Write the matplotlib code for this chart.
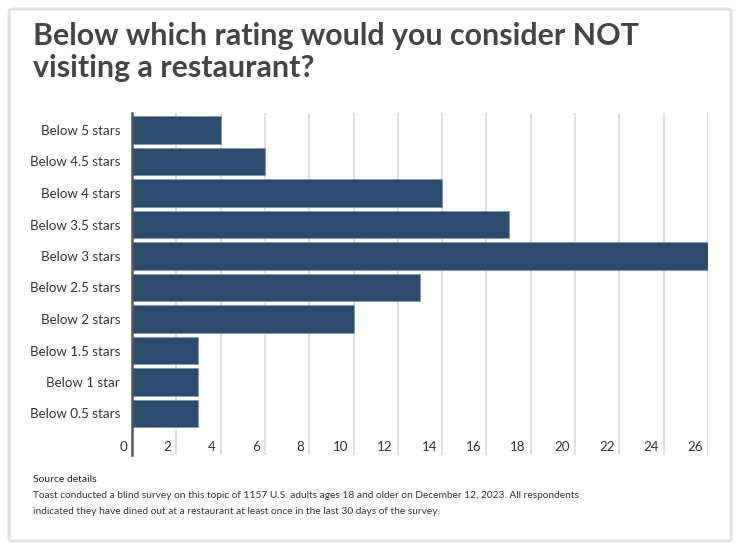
import matplotlib
matplotlib.use("Agg")
import matplotlib.pyplot as plt
from matplotlib.patches import FancyBboxPatch
from matplotlib.transforms import ScaledTranslation

categories = ["Below 5 stars", "Below 4.5 stars", "Below 4 stars", "Below 3.5 stars",
              "Below 3 stars", "Below 2.5 stars", "Below 2 stars", "Below 1.5 stars",
              "Below 1 star", "Below 0.5 stars"]
values = [4, 6, 14, 17, 26, 13, 10, 3, 3, 3]
xticks = list(range(0, 27, 2))

title_lines = ["Below which rating would you consider NOT", "visiting a restaurant?"]
source_head = "Source details"
source_lines = ["Toast conducted a blind survey on this topic of 1157 U.S. adults ages 18 and older on December 12, 2023. All respondents",
                "indicated they have dined out at a restaurant at least once in the last 30 days of the survey."]

FONT = "Lato"
W, H, DPI = 740, 550, 100
fig = plt.figure(figsize=(W / DPI, H / DPI), dpi=DPI)
fig.patch.set_facecolor("white")

# card border
fig.patches.append(FancyBboxPatch((9 / W, 9 / H), (731 - 9) / W, (541 - 9) / H,
                                  boxstyle="round,pad=0,rounding_size=0.004",
                                  transform=fig.transFigure, facecolor="white",
                                  edgecolor="#e0e0e0", linewidth=2.2, zorder=-1))

renderer = fig.canvas.get_renderer()


def fit_text(x, y, s, target_w, size, **kw):
    t = fig.text(x / W, 1 - y / H, s, fontsize=size, family=FONT, va="center", ha="left", **kw)
    w = t.get_window_extent(renderer).width
    t.set_fontsize(size * target_w / w)
    return t


t1 = fit_text(33, 36, title_lines[0], 605, 22, weight="bold", color="#444444")
fs = t1.get_fontsize()
fig.text(33 / W, 1 - 68 / H, title_lines[1], fontsize=fs, family=FONT, weight="bold",
         color="#444444", va="center", ha="left")

t = fit_text(33, 495, source_lines[0], 540, 7.5, color="#333333")
sfs = t.get_fontsize()
fig.text(33 / W, 1 - 511 / H, source_lines[1], fontsize=sfs, family=FONT, color="#333333",
         va="center", ha="left")
fig.text(33 / W, 1 - 479 / H, source_head, fontsize=sfs * 1.03, family=FONT, color="#222222",
         va="center", ha="left")

# axes
ax_l, ax_r, ax_t, ax_b = 132, 708, 113, 455
ax = fig.add_axes([ax_l / W, 1 - ax_b / H, (ax_r - ax_l) / W, (ax_b - ax_t) / H])
ypos = list(range(len(categories)))
ax.barh(ypos, values, height=0.86, color="#2c4c6e", edgecolor="#8296ab", linewidth=0.6, zorder=3)
ax.set_xlim(0, 26)
ax.set_ylim(9 + (455 - 413.5) / 31.5, -(130 - 113) / 31.5)
ax.set_xticks(xticks)
ax.set_xticklabels([str(v) for v in xticks])
ax.set_yticks(ypos)
ax.set_yticklabels(categories)
ax.tick_params(axis="both", length=0)
ax.tick_params(axis="y", pad=8.5, labelsize=9.6, labelcolor="#333333")
ax.tick_params(axis="x", pad=0, labelsize=9.6, labelcolor="#333333")
for lab in ax.get_yticklabels():
    lab.set_family(FONT)
off = ScaledTranslation(-5 / DPI, 8 / DPI, fig.dpi_scale_trans)
for lab in ax.get_xticklabels():
    lab.set_family(FONT)
    lab.set_ha("right")
    lab.set_va("center")
    lab.set_transform(lab.get_transform() + off)
ax.grid(axis="x", color="#e0e0e0", linewidth=1.5, zorder=0)
ax.grid(axis="y", visible=False)
for s in ["top", "right", "bottom"]:
    ax.spines[s].set_visible(False)
ax.spines["left"].set_color("#555555")
ax.spines["left"].set_linewidth(1.8)
ax.spines["left"].set_zorder(4)
ax.set_facecolor("none")

fig.savefig("out.png", dpi=DPI)
